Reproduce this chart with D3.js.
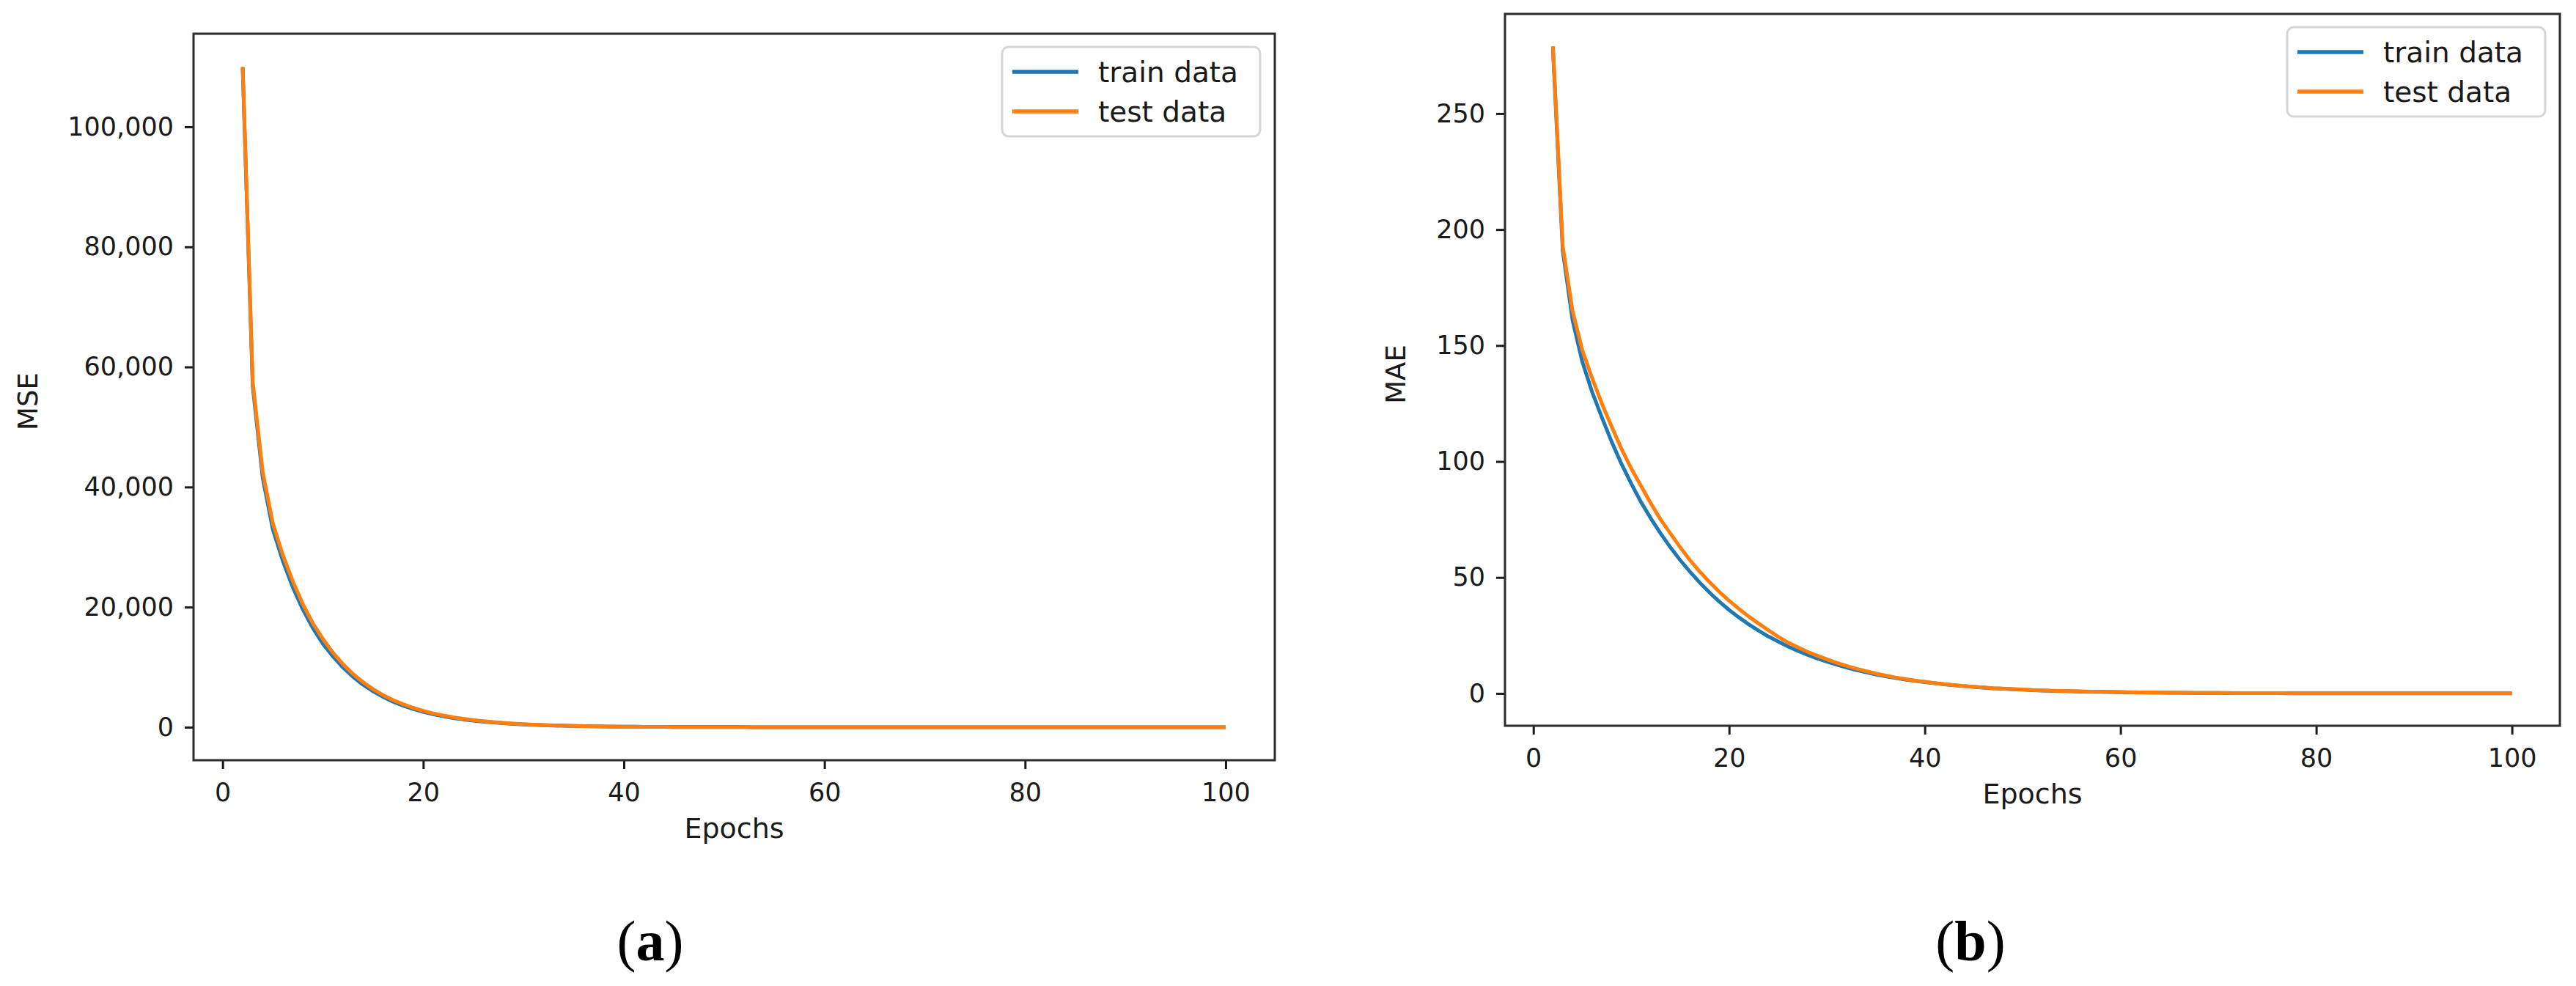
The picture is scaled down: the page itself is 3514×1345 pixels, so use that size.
<!DOCTYPE html>
<html>
<head>
<meta charset="utf-8">
<script src="https://cdn.jsdelivr.net/npm/d3@7"></script>
<style>
  html, body { margin: 0; padding: 0; background: #fff; }
  svg { display: block; font-family: "DejaVu Sans", sans-serif; }
</style>
</head>
<body>
<svg id="chart" width="3514" height="1345"></svg>
<script>
/* ---------------- DATA ---------------- */
const epochs = d3.range(2, 101);

const mseTrain = [
  109800, 56800, 41500, 33000, 27700, 23300, 19600, 16500, 13900,
  11800, 9950, 8400, 7080, 5980, 5040, 4250, 3590, 3030, 2550,
  2150, 1810, 1530, 1290, 1090, 920, 775, 655, 552, 466,
  393, 332, 280, 236, 199, 168, 142, 120, 101, 85,
  72, 61, 51, 43, 36, 31, 26, 22, 18, 15,
  13, 11, 9, 8, 7, 6, 5, 4, 3, 3,
  2, 2, 2, 1, 1, 1, 1, 1, 1, 1,
  1, 1, 1, 1, 1, 1, 1, 1, 1, 1,
  1, 1, 1, 1, 1, 1, 1, 1, 1, 1,
  1, 1, 1, 1, 1, 1, 1, 1, 1, 1
];
const mseTest = [
  110000, 57500, 42500, 34000, 28700, 24300, 20500, 17300, 14700,
  12400, 10500, 8870, 7500, 6330, 5350, 4520, 3820, 3230, 2730,
  2300, 1950, 1650, 1390, 1175, 990, 840, 710, 600, 505,
  427, 361, 305, 258, 218, 184, 155, 131, 111, 94,
  79, 67, 57, 48, 40, 34, 29, 24, 21, 17,
  15, 12, 10, 9, 7, 6, 5, 4, 4, 3,
  3, 2, 2, 2, 1, 1, 1, 1, 1, 1,
  1, 1, 1, 1, 1, 1, 1, 1, 1, 1,
  1, 1, 1, 1, 1, 1, 1, 1, 1, 1,
  1, 1, 1, 1, 1, 1, 1, 1, 1, 1
];

const maeTrain = [
  278, 191, 161, 143, 130, 119, 108.5, 99, 90.5,
  82.5, 75.5, 69, 63, 57.5, 52.5, 47.8, 43.5, 39.6, 36,
  32.8, 29.8, 27.1, 24.6, 22.4, 20.3, 18.4, 16.7, 15.1, 13.7,
  12.4, 11.2, 10.1, 9.1, 8.2, 7.4, 6.7, 6.0, 5.4, 4.9,
  4.4, 3.9, 3.5, 3.1, 2.8, 2.5, 2.2, 2.0, 1.8, 1.6,
  1.4, 1.25, 1.1, 1.0, 0.9, 0.8, 0.72, 0.65, 0.58, 0.52,
  0.47, 0.42, 0.38, 0.34, 0.3, 0.27, 0.24, 0.22, 0.2, 0.18,
  0.16, 0.14, 0.13, 0.12, 0.11, 0.1, 0.09, 0.08, 0.07, 0.06,
  0.06, 0.05, 0.05, 0.04, 0.04, 0.04, 0.03, 0.03, 0.03, 0.03,
  0.02, 0.02, 0.02, 0.02, 0.02, 0.02, 0.02, 0.02, 0.02, 0.02
];
const maeTest = [
  279, 193, 165, 148, 136, 125, 115, 105.5, 97,
  89.5, 82, 75, 69, 63, 57.5, 52.5, 48, 43.8, 40,
  36.5, 33.2, 30.2, 27.3, 24.5, 22, 20, 18, 16.3, 14.7,
  13.2, 11.9, 10.7, 9.6, 8.6, 7.7, 6.9, 6.2, 5.5, 5.0,
  4.5, 4.0, 3.6, 3.2, 2.9, 2.6, 2.3, 2.1, 1.9, 1.7,
  1.5, 1.35, 1.2, 1.1, 1.0, 0.9, 0.8, 0.72, 0.65, 0.58,
  0.52, 0.47, 0.42, 0.38, 0.34, 0.31, 0.28, 0.25, 0.22, 0.2,
  0.18, 0.16, 0.15, 0.13, 0.12, 0.11, 0.1, 0.09, 0.08, 0.07,
  0.07, 0.06, 0.06, 0.05, 0.05, 0.04, 0.04, 0.04, 0.03, 0.03,
  0.03, 0.03, 0.03, 0.02, 0.02, 0.02, 0.02, 0.02, 0.02, 0.02
];

const seriesNames = ["train data", "test data"];
const xTicks = [0, 20, 40, 60, 80, 100];
const mseTicks = [0, 20000, 40000, 60000, 80000, 100000];
const maeTicks = [0, 50, 100, 150, 200, 250];

/* ---------------- STYLE ---------------- */
const colors = ["#1f77b4", "#ff7f0e"];
const ink = "#1a1a1a";

/* ---------------- PANELS ---------------- */
const panels = [
  {
    series: [mseTrain, mseTest], yTicks: mseTicks, yFormat: d3.format(","),
    yLabel: "MSE", tag: "a",
    left: 264, right: 1739, top: 46, bottom: 1037,
    yLabelX: 38, tagX: 887, lineWidth: 5
  },
  {
    series: [maeTrain, maeTest], yTicks: maeTicks, yFormat: d3.format("d"),
    yLabel: "MAE", tag: "b",
    left: 2053, right: 3492, top: 19, bottom: 990,
    yLabelX: 1904, tagX: 2688, lineWidth: 5
  }
];

const svg = d3.select("#chart");

// matplotlib style 5% margins
function padded(ext) {
  const m = (ext[1] - ext[0]) * 0.05;
  return [ext[0] - m, ext[1] + m];
}

function drawPanel(p) {
  const g = svg.append("g");

  const x = d3.scaleLinear()
    .domain(padded(d3.extent(epochs)))
    .range([p.left, p.right]);

  const y = d3.scaleLinear()
    .domain(padded(d3.extent(p.series.flat())))
    .range([p.bottom, p.top]);

  /* axes */
  const xAxis = g.append("g")
    .attr("transform", `translate(0,${p.bottom})`)
    .call(d3.axisBottom(x).tickValues(xTicks).tickSize(12).tickPadding(19).tickFormat(d3.format("d")));

  const yAxis = g.append("g")
    .attr("transform", `translate(${p.left},0)`)
    .call(d3.axisLeft(y).tickValues(p.yTicks).tickSize(12).tickPadding(15).tickFormat(p.yFormat));

  [xAxis, yAxis].forEach(a => {
    a.attr("font-family", "DejaVu Sans, sans-serif").attr("font-size", 35);
    a.select(".domain").remove();
    a.selectAll(".tick line").attr("stroke", ink).attr("stroke-width", 3);
    a.selectAll(".tick text").attr("fill", ink);
  });

  /* lines */
  const line = data => d3.line()
    .x((d, i) => x(epochs[i]))
    .y(d => y(d))(data);

  p.series.forEach((s, i) => {
    g.append("path")
      .attr("d", line(s))
      .attr("fill", "none")
      .attr("stroke", colors[i])
      .attr("stroke-width", p.lineWidth)
      .attr("stroke-linejoin", "round");
  });

  /* frame */
  g.append("rect")
    .attr("x", p.left).attr("y", p.top)
    .attr("width", p.right - p.left).attr("height", p.bottom - p.top)
    .attr("fill", "none")
    .attr("stroke", "#2b2b2b")
    .attr("stroke-width", 3);

  /* legend */
  const lw = 352, lh = 122;
  const lx = p.right - 20 - lw, ly = p.top + 18;
  const legend = g.append("g").attr("transform", `translate(${lx},${ly})`);
  legend.append("rect")
    .attr("width", lw).attr("height", lh).attr("rx", 9)
    .attr("fill", "#fff").attr("fill-opacity", 0.8)
    .attr("stroke", "#d6d6d6").attr("stroke-width", 3);

  seriesNames.forEach((name, i) => {
    const ry = 34 + i * 54;
    legend.append("line")
      .attr("x1", 14).attr("x2", 104)
      .attr("y1", ry).attr("y2", ry)
      .attr("stroke", colors[i]).attr("stroke-width", p.lineWidth + 0.5);
    legend.append("text")
      .attr("x", 131).attr("y", ry).attr("dy", "0.35em")
      .attr("font-size", 39).attr("fill", ink)
      .text(name);
  });

  /* axis labels */
  g.append("text")
    .attr("x", (p.left + p.right) / 2).attr("y", p.bottom + 106)
    .attr("text-anchor", "middle")
    .attr("font-size", 38).attr("fill", ink)
    .text("Epochs");

  g.append("text")
    .attr("transform", `translate(${p.yLabelX},${(p.top + p.bottom) / 2 + 6}) rotate(-90)`)
    .attr("text-anchor", "middle").attr("dy", "0.35em")
    .attr("font-size", 37).attr("fill", ink)
    .text(p.yLabel);

  /* panel tag, e.g. (a) */
  const tag = svg.append("text")
    .attr("x", p.tagX).attr("y", 1310)
    .attr("text-anchor", "middle")
    .attr("font-family", "Liberation Serif, serif")
    .attr("font-size", 78).attr("fill", "#000");
  tag.append("tspan").text("(");
  tag.append("tspan").attr("font-weight", "bold").text(p.tag);
  tag.append("tspan").text(")");
}

panels.forEach(drawPanel);
</script>
</body>
</html>
